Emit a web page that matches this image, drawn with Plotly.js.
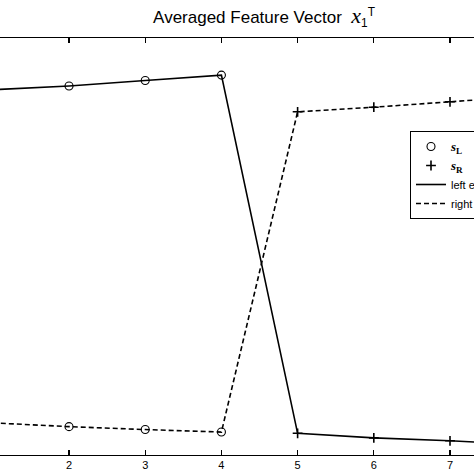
<!DOCTYPE html>
<html>
<head>
<meta charset="utf-8">
<script src="https://cdn.plot.ly/plotly-3.0.1.min.js"></script>
<style>
  html, body { margin: 0; padding: 0; background: #fff; }
  #chart { width: 474px; height: 474px; }
</style>
</head>
<body>
<div id="chart"></div>
<script>
// feature index 1..8
var featureIdx = [1, 2, 3, 4, 5, 6, 7, 8];
// averaged values (arbitrary 0..1 units)
var leftEye  = [0.876, 0.885, 0.898, 0.911, 0.052, 0.041, 0.034, 0.025];
var rightEye = [0.077, 0.068, 0.061, 0.055, 0.823, 0.834, 0.847, 0.860];
var xTicks = [1, 2, 3, 4, 5, 6, 7, 8];

// s_L markers sit on features 1-4, s_R on features 5-8
var sLx = featureIdx.slice(0, 4).concat(featureIdx.slice(0, 4));
var sLy = leftEye.slice(0, 4).concat(rightEye.slice(0, 4));
var sRx = featureIdx.slice(4).concat(featureIdx.slice(4));
var sRy = leftEye.slice(4).concat(rightEye.slice(4));

var serif = 'Liberation Serif';

var data = [
    {
        x: featureIdx, y: leftEye,
        mode: 'lines', name: 'left eye', legendrank: 3,
        line: {color: 'black', width: 1.6}
    },
    {
        x: featureIdx, y: rightEye,
        mode: 'lines', name: 'right eye', legendrank: 4,
        line: {color: 'black', width: 1.6, dash: '5px,3px'}
    },
    {
        x: sLx, y: sLy,
        mode: 'markers', legendrank: 1,
        name: '<span style="font-family:' + serif + ';font-size:13px"><b><i>s</i><sub>L</sub></b></span>',
        marker: {symbol: 'circle-open', size: 8, color: 'black', line: {width: 1.1}}
    },
    {
        x: sRx, y: sRy,
        mode: 'markers', legendrank: 2,
        name: '<span style="font-family:' + serif + ';font-size:13px"><b><i>s</i><sub>R</sub></b></span>',
        marker: {symbol: 'cross-thin-open', size: 7, color: 'black', line: {width: 1.6, color: 'black'}}
    }
];

var layout = {
    width: 474,
    height: 474,
    paper_bgcolor: 'white',
    plot_bgcolor: 'white',
    font: {family: 'Arial, Liberation Sans', color: 'black', size: 11},
    margin: {l: 0, r: 0, t: 38, b: 19, autoexpand: false},
    title: {
        text: 'Averaged Feature Vector  <span style="font-family:' + serif + ';font-style:italic;font-size:22px">x</span><sub>1</sub><sup>T</sup>',
        font: {family: 'Arial, Liberation Sans', size: 17, color: 'black'},
        xref: 'container', x: 0.557, xanchor: 'center',
        yref: 'container', y: 0.963, yanchor: 'middle'
    },
    xaxis: {
        range: [1.094, 7.315],
        tickmode: 'array',
        tickvals: xTicks,
        ticks: 'inside',
        ticklen: 5,
        tickwidth: 1.2,
        tickcolor: 'black',
        showline: true,
        linecolor: 'black',
        linewidth: 1.2,
        mirror: 'ticks',
        showgrid: false,
        zeroline: false,
        automargin: false,
        tickfont: {size: 11}
    },
    yaxis: {
        range: [0, 1],
        visible: false,
        showgrid: false,
        zeroline: false
    },
    showlegend: true,
    legend: {
        x: 410 / 474, xanchor: 'left',
        y: 1 - (131 - 38) / 417, yanchor: 'top',
        bgcolor: 'white',
        bordercolor: 'black',
        borderwidth: 1,
        tracegroupgap: 0,
        font: {size: 11, color: 'black'},
        itemwidth: 30
    }
};

Plotly.newPlot('chart', data, layout, {displayModeBar: false, staticPlot: true});
</script>
</body>
</html>
